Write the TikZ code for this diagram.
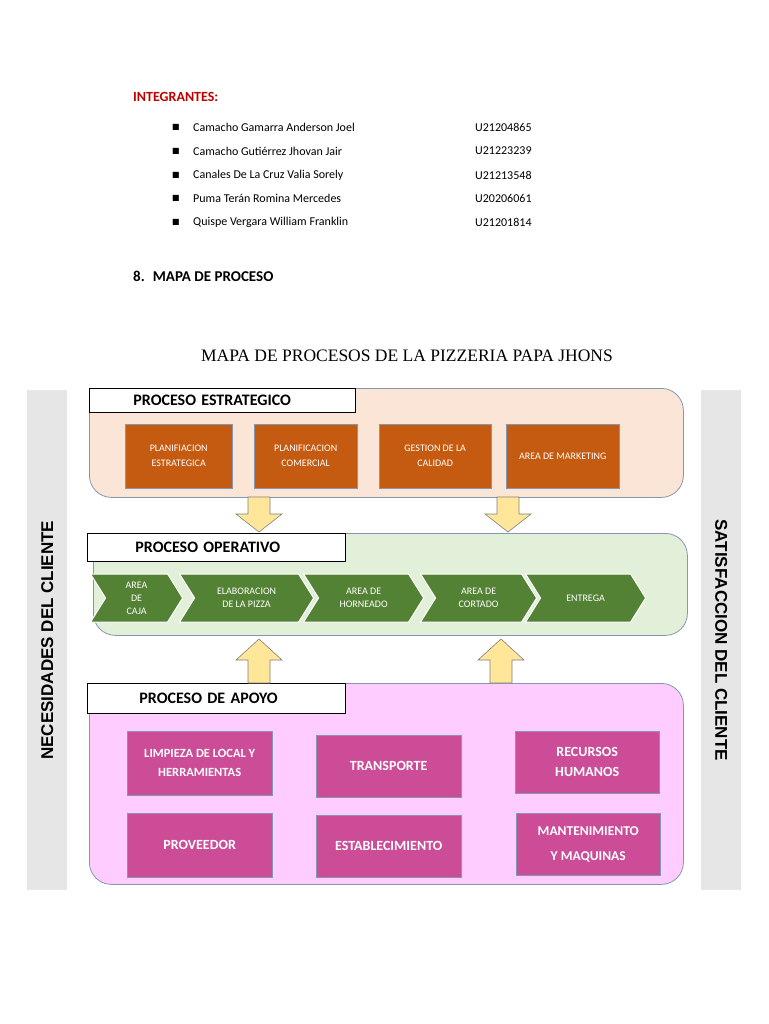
\documentclass[tikz,border=0pt]{standalone}
\usepackage{fontspec}
\setmainfont{Carlito}
\newfontfamily\serifx{Liberation Serif}
\newfontfamily\sansx{Liberation Sans}
\newfontfamily\dejav{DejaVu Sans}
\usetikzlibrary{shapes.symbols}
\definecolor{peach}{HTML}{FBE5D6}
\definecolor{orangeb}{HTML}{C55A11}
\definecolor{paleg}{HTML}{E2F0D9}
\definecolor{greenb}{HTML}{548235}
\definecolor{pinkbg}{HTML}{FFCCFF}
\definecolor{magb}{HTML}{CC4C98}
\definecolor{arrowy}{HTML}{FFE699}
\definecolor{bord}{HTML}{8497B0}
\definecolor{redt}{HTML}{C00000}
\definecolor{grayb}{HTML}{E7E6E6}
\begin{document}
\begin{tikzpicture}[x=1pt,y=-1pt,
 txt/.style={anchor=west,inner sep=0,font=\fontsize{12}{14}\selectfont},
 panel/.style={draw=bord,line width=0.8pt,rounded corners=22pt},
 lab/.style={draw=black,fill=white,line width=0.8pt,anchor=north west,inner sep=0,font=\bfseries\fontsize{16}{18}\selectfont,text depth=0pt},
 obox/.style={draw=bord,fill=orangeb,text=white,align=center,font=\fontsize{10}{15}\selectfont,anchor=north west,inner sep=0},
 mbox/.style={draw=bord,fill=magb,text=white,align=center,font=\bfseries\fontsize{14}{20}\selectfont,anchor=north west,inner sep=0},
 chev/.style={shape=signal,signal to=east,signal from=west,signal pointer angle=116,fill=greenb,draw=white,line width=1pt,text=white,align=center,font=\fontsize{10}{13}\selectfont,minimum height=48pt,inner sep=0,anchor=west},
 yarrow/.style={draw=gray,fill=arrowy,line width=0.6pt},
 sidebar/.style={fill=grayb,anchor=north west,inner sep=0,minimum width=40pt,minimum height=500pt},
 sidetext/.style={font=\sansx\bfseries\fontsize{17}{19}\selectfont}]
\useasboundingbox[fill=white] (0,0) rectangle (768,1024);
\node[txt,text=redt,font=\bfseries\fontsize{14}{16}\selectfont] (int) at (133,97) {INTEGRANTES:};
\foreach \n/\nm/\id/\y in {1/Camacho Gamarra Anderson Joel/U21204865/127,2/Camacho Gutiérrez Jhovan Jair/U21223239/151,3/Canales De La Cruz Valia Sorely/U21213548/175,4/Puma Terán Romina Mercedes/U20206061/198,5/Quispe Vergara William Franklin/U21201814/222}{
 \node[txt,font=\dejav\fontsize{8}{10}\selectfont] (b\n) at (172,\y) {■};
 \node[txt] (n\n) at (193,\y) {\nm};
 \node[txt] (i\n) at (475,\y) {\id};}
\node[txt,font=\bfseries\fontsize{15}{17}\selectfont] (sec) at (133,276) {8.\hspace{8pt}MAPA DE PROCESO};
\node[font=\serifx\fontsize{17.5}{20}\selectfont] (title) at (407,356) {MAPA DE PROCESOS DE LA PIZZERIA PAPA JHONS};
% side bars
\node[sidebar] (lb) at (27,390) {};
\node[sidetext,rotate=90] (lt) at (lb.center) {NECESIDADES DEL CLIENTE};
\node[sidebar] (rb) at (701,390) {};
\node[sidetext,rotate=-90] (rt) at (rb.center) {SATISFACCION DEL CLIENTE};
% strategic
\node[panel,fill=peach,anchor=north west,minimum width=594pt,minimum height=109pt,inner sep=0] (pe) at (89,388) {};
\node[lab,minimum width=266pt,minimum height=24pt,text width=246pt,align=left] (le) at (89,388) {\hspace*{34pt}PROCESO ESTRATEGICO};
\node[obox,minimum width=107pt,minimum height=64pt] (o1) at (125,424) {PLANIFIACION\\ESTRATEGICA};
\node[obox,minimum width=103pt,minimum height=64pt] (o2) at (254,424) {PLANIFICACION\\COMERCIAL};
\node[obox,minimum width=112pt,minimum height=64pt] (o3) at (379,424) {GESTION DE LA\\CALIDAD};
\node[obox,minimum width=113pt,minimum height=64pt] (o4) at (506,424) {AREA DE MARKETING};
% operative
\node[panel,fill=paleg,anchor=north west,minimum width=594pt,minimum height=102pt,inner sep=0] (po) at (93,533) {};
\node[lab,minimum width=258pt,minimum height=28pt,text width=238pt,align=left] (lo) at (87,533) {\hspace*{38pt}PROCESO OPERATIVO};
\node[chev,minimum width=92pt] (c1) at (105,598) {AREA\\DE\\CAJA};
\node[chev,minimum width=134pt] (c2) at (194,598) {ELABORACION\\DE LA PIZZA};
\node[chev,minimum width=120pt] (c3) at (318,598) {AREA DE\\HORNEADO};
\node[chev,minimum width=116pt] (c4) at (435,598) {AREA DE\\CORTADO};
\node[chev,minimum width=120pt] (c5) at (540,598) {ENTREGA};
% support
\node[panel,fill=pinkbg,anchor=north west,minimum width=594pt,minimum height=201pt,inner sep=0] (pa) at (89,683) {};
\node[lab,minimum width=258pt,minimum height=30pt,text width=238pt,align=left] (la) at (87,683) {\hspace*{42pt}PROCESO DE APOYO};
\node[mbox,minimum width=145pt,minimum height=64pt,font=\bfseries\fontsize{12.5}{19}\selectfont] (m1) at (127,731) {LIMPIEZA DE LOCAL Y\\HERRAMIENTAS};
\node[mbox,minimum width=145pt,minimum height=62pt] (m2) at (316,735) {TRANSPORTE};
\node[mbox,minimum width=144pt,minimum height=62pt] (m3) at (515,731) {RECURSOS\\HUMANOS};
\node[mbox,minimum width=145pt,minimum height=64pt] (m4) at (127,813) {PROVEEDOR};
\node[mbox,minimum width=145pt,minimum height=62pt] (m5) at (316,815) {ESTABLECIMIENTO};
\node[mbox,minimum width=144pt,minimum height=62pt,font=\bfseries\fontsize{13.5}{25}\selectfont] (m6) at (516,813) {MANTENIMIENTO\\Y MAQUINAS};
% arrows
\foreach \cx/\ty in {259/497,508/497}{
 \draw[yarrow] (\cx-11,\ty) -- (\cx+11,\ty) -- (\cx+11,\ty+17) -- (\cx+23,\ty+17) -- (\cx,\ty+35) -- (\cx-23,\ty+17) -- (\cx-11,\ty+17) -- cycle;}
\foreach \cx/\by in {259/683,501/683}{
 \draw[yarrow] (\cx-11,\by) -- (\cx+11,\by) -- (\cx+11,\by-23) -- (\cx+23,\by-23) -- (\cx,\by-44) -- (\cx-23,\by-23) -- (\cx-11,\by-23) -- cycle;}
\end{tikzpicture}
\end{document}
